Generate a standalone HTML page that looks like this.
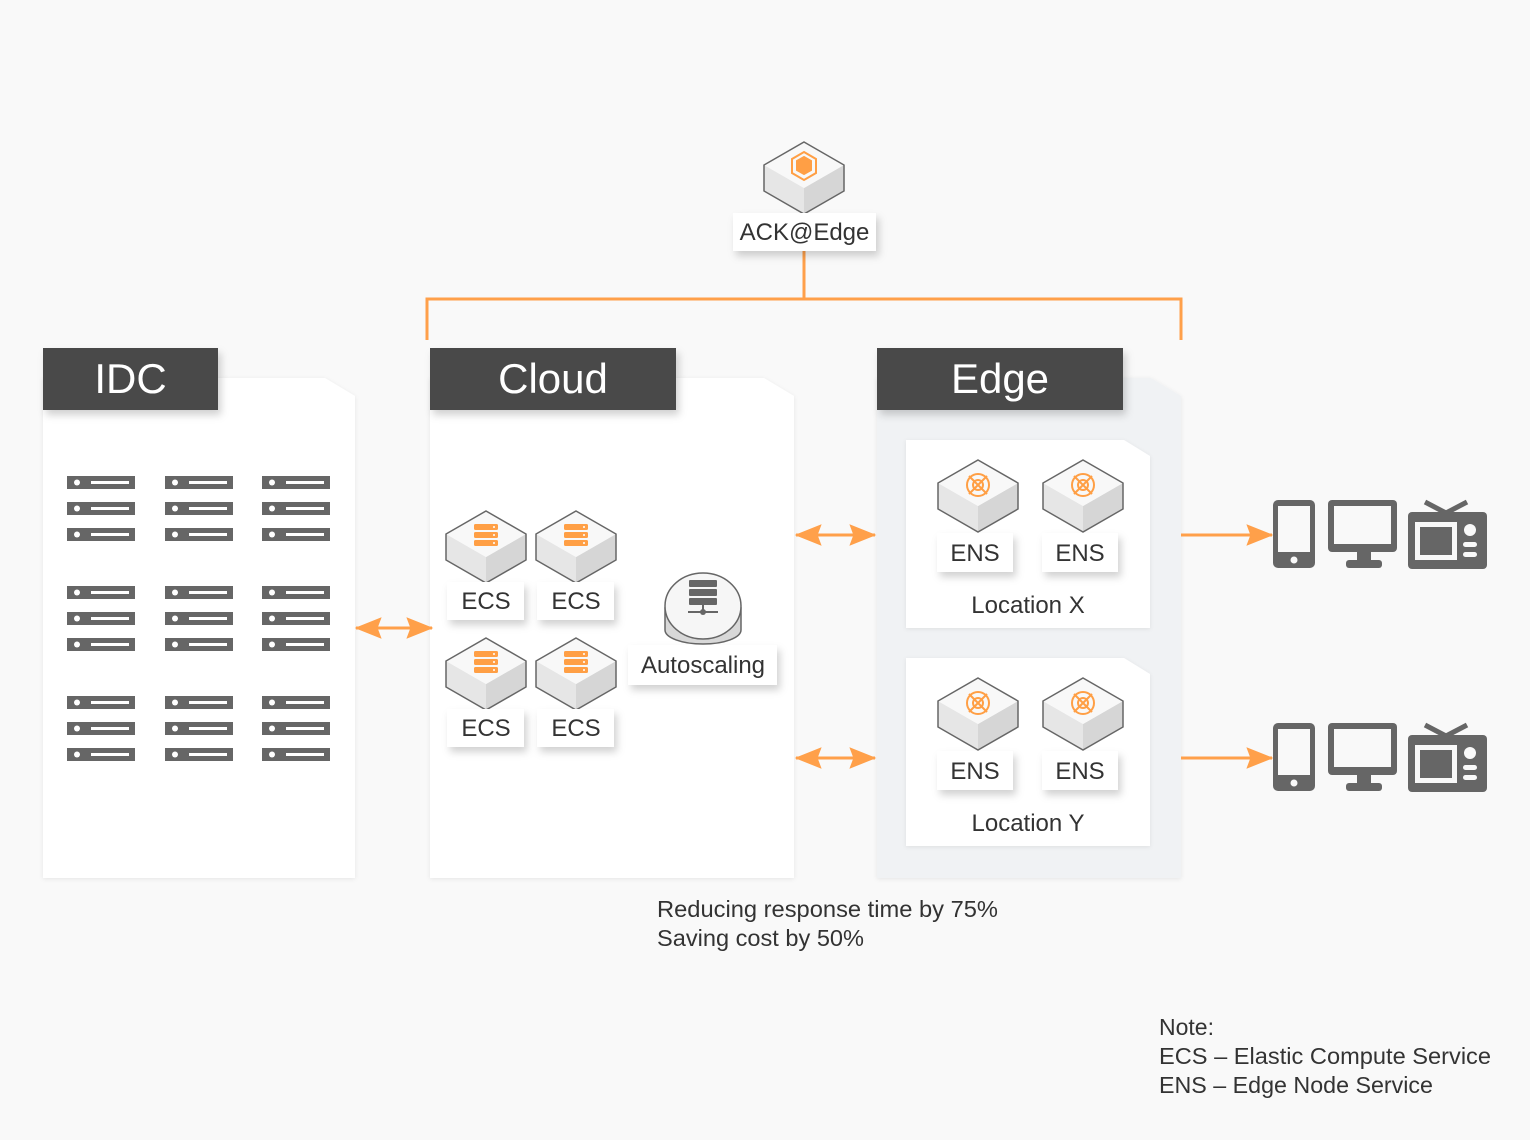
<!DOCTYPE html>
<html><head><meta charset="utf-8"><style>
html,body{margin:0;padding:0;background:#f9f9f9;}
svg{display:block;font-family:"Liberation Sans",sans-serif;}
</style></head><body>
<svg width="1530" height="1140" viewBox="0 0 1530 1140" xmlns="http://www.w3.org/2000/svg">
<defs>
  <filter id="sh" x="-20%" y="-20%" width="150%" height="160%">
    <feDropShadow dx="3" dy="5" stdDeviation="4" flood-color="#000" flood-opacity="0.18"/>
  </filter>
  <filter id="sh2" x="-10%" y="-10%" width="120%" height="120%">
    <feDropShadow dx="0" dy="1" stdDeviation="2" flood-color="#000" flood-opacity="0.08"/>
  </filter>
  <g id="cube">
    <polygon points="0,23 40,46 40,72 0,49" fill="#e6e6e6"/>
    <polygon points="80,23 40,46 40,72 80,49" fill="#d6d6d6"/>
    <polygon points="40,0 80,23 40,46 0,23" fill="#f8f8f8"/>
    <polygon points="40,0 80,23 80,49 40,72 0,49 0,23" fill="none" stroke="#666" stroke-width="1.5"/>
  </g>
  <g id="srv">
    <rect x="0" y="0" width="68" height="13" fill="#666"/>
    <circle cx="10" cy="6.5" r="3" fill="#fff"/>
    <rect x="24" y="5" width="38" height="3" fill="#fff"/>
  </g>
  <g id="srv3">
    <use href="#srv" y="0"/><use href="#srv" y="26"/><use href="#srv" y="52"/>
  </g>
  <g id="ecsicon">
    <rect x="-12" y="13" width="24" height="6" rx="1.5" fill="#ff9f45"/>
    <rect x="-12" y="21" width="24" height="6" rx="1.5" fill="#ff9f45"/>
    <rect x="-12" y="29" width="24" height="6" rx="1.5" fill="#ff9f45"/>
    <circle cx="8" cy="16" r="1" fill="#fff"/><circle cx="8" cy="24" r="1" fill="#fff"/><circle cx="8" cy="32" r="1" fill="#fff"/>
  </g>
  <g id="ensicon" fill="none" stroke="#ff9f45" stroke-width="2">
    <circle cx="0" cy="25" r="11"/>
    <circle cx="0" cy="25" r="5"/>
    <line x1="-9" y1="16" x2="9" y2="34"/><line x1="9" y1="16" x2="-9" y2="34"/>
  </g>
  <g id="devices" fill="#666">
    <rect x="0" y="0" width="42" height="68" rx="5"/>
    <rect x="5" y="6" width="32" height="46" fill="#f9f9f9"/>
    <circle cx="21" cy="60" r="3.5" fill="#f9f9f9"/>
    <rect x="55" y="0" width="69" height="52" rx="4"/>
    <rect x="61" y="6" width="57" height="38" fill="#f9f9f9"/>
    <rect x="84" y="52" width="14" height="10"/>
    <rect x="73" y="60" width="36" height="8" rx="3"/>
    <rect x="135" y="12" width="79" height="57" rx="4"/>
    <line x1="152" y1="2" x2="173" y2="13" stroke="#666" stroke-width="5"/>
    <line x1="194" y1="2" x2="173" y2="13" stroke="#666" stroke-width="5"/>
    <rect x="142" y="22" width="42" height="38" fill="#f9f9f9"/>
    <rect x="147" y="27" width="32" height="28" fill="#666"/>
    <circle cx="197" cy="30" r="6" fill="#f9f9f9"/>
    <rect x="190" y="42" width="14" height="5" rx="2.5" fill="#f9f9f9"/>
    <rect x="190" y="52" width="14" height="5" rx="2.5" fill="#f9f9f9"/>
  </g>
  <marker id="ah" viewBox="0 0 10 8" refX="9.5" refY="4" markerWidth="9" markerHeight="7.2" markerUnits="strokeWidth" orient="auto-start-reverse">
    <path d="M0,0 L10,4 L0,8 L1.5,4 z" fill="#ffa04a"/>
  </marker>
</defs>

<rect width="1530" height="1140" fill="#f9f9f9"/>

<g stroke="#ffa04a" stroke-width="3" fill="none">
  <line x1="804" y1="251" x2="804" y2="299"/>
  <polyline points="427,340 427,299 1181,299 1181,340"/>
</g>

<use href="#cube" x="764" y="142"/>
<g transform="translate(804,152)" fill="none" stroke="#ff9f45" stroke-width="2">
  <polygon points="0,0 12,7 12,21 0,28 -12,21 -12,7"/>
  <polygon points="0,5 7,9 7,18 0,22 -7,18 -7,9" fill="#ff9f45"/>
</g>
<rect x="733" y="213" width="143" height="38" fill="#fff" filter="url(#sh)"/>
<text x="804.5" y="240" font-size="24" fill="#333" text-anchor="middle">ACK@Edge</text>

<polygon points="43,378 325,378 355,396 355,878 43,878" fill="#fff" filter="url(#sh2)"/>
<rect x="43" y="348" width="175" height="62" fill="#4a4a4a" filter="url(#sh)"/>
<text x="130.5" y="393" font-size="42" fill="#fff" text-anchor="middle">IDC</text>
<use href="#srv3" x="67" y="476"/><use href="#srv3" x="165" y="476"/><use href="#srv3" x="262" y="476"/>
<use href="#srv3" x="67" y="586"/><use href="#srv3" x="165" y="586"/><use href="#srv3" x="262" y="586"/>
<use href="#srv3" x="67" y="696"/><use href="#srv3" x="165" y="696"/><use href="#srv3" x="262" y="696"/>

<polygon points="430,378 764,378 794,396 794,878 430,878" fill="#fff" filter="url(#sh2)"/>
<rect x="430" y="348" width="246" height="62" fill="#4a4a4a" filter="url(#sh)"/>
<text x="553" y="393" font-size="42" fill="#fff" text-anchor="middle">Cloud</text>

<use href="#cube" x="446" y="511"/><use href="#ecsicon" x="486" y="511"/>
<use href="#cube" x="536" y="511"/><use href="#ecsicon" x="576" y="511"/>
<use href="#cube" x="446" y="638"/><use href="#ecsicon" x="486" y="638"/>
<use href="#cube" x="536" y="638"/><use href="#ecsicon" x="576" y="638"/>
<g filter="url(#sh)" fill="#fff">
  <rect x="447" y="582" width="77" height="38"/><rect x="537" y="582" width="77" height="38"/>
  <rect x="447" y="709" width="77" height="38"/><rect x="537" y="709" width="77" height="38"/>
  <rect x="628" y="645" width="149" height="40"/>
</g>
<g font-size="24" fill="#333" text-anchor="middle">
  <text x="486" y="609">ECS</text><text x="576" y="609">ECS</text>
  <text x="486" y="736">ECS</text><text x="576" y="736">ECS</text>
  <text x="703" y="673">Autoscaling</text>
</g>
<path d="M665,608 L665,630 A38,14 0 0 0 741,630 L741,608 Z" fill="#d8d8d8" stroke="#666" stroke-width="1.5"/>
<ellipse cx="703" cy="606" rx="38" ry="33" fill="#f6f6f6" stroke="#666" stroke-width="1.5"/>
<g fill="#666">
  <rect x="689" y="580" width="28" height="7" rx="1"/>
  <rect x="689" y="589" width="28" height="7" rx="1"/>
  <rect x="689" y="598" width="28" height="7" rx="1"/>
  <rect x="702" y="605" width="2" height="7"/>
  <rect x="688" y="611" width="30" height="2"/>
  <circle cx="703" cy="612" r="3"/>
</g>

<polygon points="877,378 1151,378 1181,396 1181,878 877,878" fill="#f0f2f4" filter="url(#sh2)"/>
<rect x="877" y="348" width="246" height="62" fill="#4a4a4a" filter="url(#sh)"/>
<text x="1000" y="393" font-size="42" fill="#fff" text-anchor="middle">Edge</text>

<polygon points="906,440 1124,440 1150,456 1150,628 906,628" fill="#fff" filter="url(#sh2)"/>
<polygon points="906,658 1124,658 1150,674 1150,846 906,846" fill="#fff" filter="url(#sh2)"/>
<use href="#cube" x="938" y="460"/><use href="#ensicon" x="978" y="460"/>
<use href="#cube" x="1043" y="460"/><use href="#ensicon" x="1083" y="460"/>
<use href="#cube" x="938" y="678"/><use href="#ensicon" x="978" y="678"/>
<use href="#cube" x="1043" y="678"/><use href="#ensicon" x="1083" y="678"/>
<g filter="url(#sh)" fill="#fff">
  <rect x="937" y="533" width="76" height="39"/><rect x="1042" y="533" width="76" height="39"/>
  <rect x="937" y="751" width="76" height="39"/><rect x="1042" y="751" width="76" height="39"/>
</g>
<g font-size="24" fill="#333" text-anchor="middle">
  <text x="975" y="561">ENS</text><text x="1080" y="561">ENS</text>
  <text x="975" y="779">ENS</text><text x="1080" y="779">ENS</text>
  <text x="1028" y="613">Location X</text>
  <text x="1028" y="831">Location Y</text>
</g>

<g stroke="#ffa04a" stroke-width="3" fill="none">
  <line x1="356" y1="628" x2="432" y2="628" marker-start="url(#ah)" marker-end="url(#ah)"/>
  <line x1="796" y1="535" x2="875" y2="535" marker-start="url(#ah)" marker-end="url(#ah)"/>
  <line x1="796" y1="758" x2="875" y2="758" marker-start="url(#ah)" marker-end="url(#ah)"/>
  <line x1="1181" y1="535" x2="1272" y2="535" marker-end="url(#ah)"/>
  <line x1="1181" y1="758" x2="1272" y2="758" marker-end="url(#ah)"/>
</g>

<use href="#devices" x="1273" y="500"/>
<use href="#devices" x="1273" y="723"/>

<g font-size="23" fill="#333">
  <text x="657" y="917" textLength="341" lengthAdjust="spacingAndGlyphs">Reducing response time by 75%</text>
  <text x="657" y="946" textLength="207" lengthAdjust="spacingAndGlyphs">Saving cost by 50%</text>
  <text x="1159" y="1035">Note:</text>
  <text x="1159" y="1064" textLength="332" lengthAdjust="spacingAndGlyphs">ECS – Elastic Compute Service</text>
  <text x="1159" y="1093" textLength="274" lengthAdjust="spacingAndGlyphs">ENS – Edge Node Service</text>
</g>
</svg>
</body></html>
